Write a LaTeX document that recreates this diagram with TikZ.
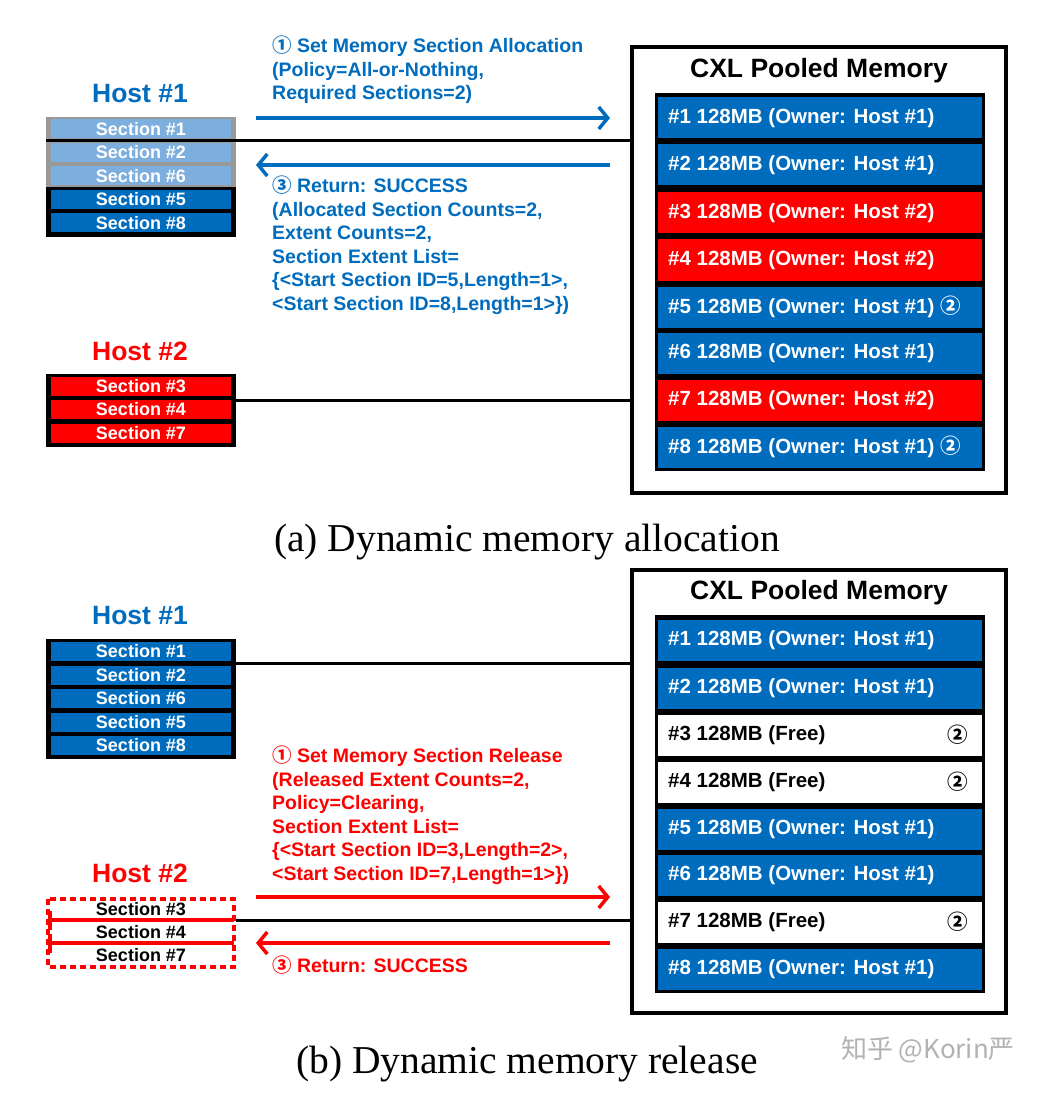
\documentclass[tikz,border=0pt]{standalone}
\usepackage{fontspec}
\setmainfont{Liberation Serif}
\newfontfamily\nsf{Liberation Sans}
\newfontfamily\cjk{Noto Sans CJK SC}
\usetikzlibrary{arrows.meta}
\definecolor{bl}{RGB}{0,108,190}
\definecolor{lb}{RGB}{125,175,222}
\definecolor{rd}{RGB}{255,0,0}
\newcommand{\cn}[1]{{\cjk\bfseries #1}}
\tikzset{
 txt/.style={font=\nsf\bfseries\fontsize{19.5}{23.5}\selectfont,align=left,anchor=north west,inner sep=0},
 sec/.style={minimum width=180pt,minimum height=19pt,inner sep=0,text=white,font=\nsf\bfseries\fontsize{18}{18}\selectfont},
 ent/.style={minimum width=324pt,minimum height=41pt,inner sep=0},
 et/.style={font=\nsf\bfseries\fontsize{20.5}{22}\selectfont,anchor=west,inner sep=0},
 hl/.style={font=\nsf\bfseries\fontsize{26.5}{28}\selectfont},
 conn/.style={line width=3pt},
 arr/.style={line width=4pt,-{Straight Barb[length=9pt,width=22pt,line width=3.5pt]}},
 captxt/.style={font=\fontsize{39.5}{42}\selectfont},
}
\begin{document}
\begin{tikzpicture}[x=1pt,y=-1pt]
\useasboundingbox[fill=white] (0,0) rectangle (1064,1099);
% ===== (a)
\node[hl,text=bl] (h1) at (140,94) {Host \#1};
\fill[black] (46,187) rectangle (236,237);
\fill[gray!80] (46,117) rectangle (236,187);
\node[sec,fill=lb] (a1) at (141,129) {Section \#1};
\node[sec,fill=lb] (a2) at (141,152.5) {Section \#2};
\node[sec,fill=lb] (a6) at (141,176) {Section \#6};
\node[sec,fill=bl] (a5) at (141,199.5) {Section \#5};
\node[sec,fill=bl] (a8) at (141,223) {Section \#8};
\node[hl,text=rd] (h2) at (140,351) {Host \#2};
\fill[black] (46,374) rectangle (236,447);
\node[sec,fill=rd] (a3) at (141,386) {Section \#3};
\node[sec,fill=rd] (a4) at (141,409.5) {Section \#4};
\node[sec,fill=rd] (a7) at (141,433) {Section \#7};
% pool a
\draw[line width=4pt] (632,47) rectangle (1006,493);
\node[hl] (pa) at (819,71) {CXL Pooled Memory};
\fill[black] (655,93) rectangle (985,471);
\foreach \n/\y/\c/\o/\m in {1/118/bl/1/,2/165/bl/1/,3/213/rd/2/,4/260/rd/2/,5/307/bl/1/\cn{②},6/353/bl/1/,7/400/rd/2/,8/447/bl/1/\cn{②}}{
 \node[ent,fill=\c] (pa\n) at (820,\y) {};
 \node[et,text=white] at (668,\y) {\#\n\ 128MB (Owner: Host \#\o) \m};
}
\coordinate (ca) at (632,141);
\draw[conn] (46,141) -- (ca);
\draw[conn] (236,400) -- (632,400);
\draw[arr,draw=bl] (256,118) -- (610,118);
\draw[arr,draw=bl] (610,165) -- (256,165);
\node[txt,text=bl] (t1) at (272,36) {\cn{①} Set Memory Section Allocation\\(Policy=All-or-Nothing,\\Required Sections=2)};
\node[txt,text=bl] (t3) at (272,176) {\cn{③} Return: SUCCESS\\(Allocated Section Counts=2,\\Extent Counts=2,\\Section Extent List=\\\{<Start Section ID=5,Length=1>,\\ <Start Section ID=8,Length=1>\})};
\node[captxt] (capa) at (527,542) {(a) Dynamic memory allocation};
% ===== (b)
\node[hl,text=bl] (g1) at (140,616) {Host \#1};
\fill[black] (46,639) rectangle (236,759);
\foreach \s/\y in {1/651,2/675,6/698,5/722,8/745}{
 \node[sec,fill=bl] (b\s) at (141,\y) {Section \#\s};
}
\node[hl,text=rd] (g2) at (140,873) {Host \#2};
\node[sec,text=black] (b3) at (141,909) {Section \#3};
\node[sec,text=black] (b4) at (141,932) {Section \#4};
\node[sec,text=black] (b7) at (141,955) {Section \#7};
\draw[rd,line width=4pt,dash pattern=on 6pt off 4pt] (48,899) rectangle (234,967);
\draw[rd,line width=4pt,|-] (48,920) -- (234,920);
\draw[rd,line width=4pt,|-] (48,943) -- (234,943);
\draw[line width=4pt] (632,570) rectangle (1006,1013);
\node[hl] (pb) at (819,593) {CXL Pooled Memory};
\fill[black] (655,615) rectangle (985,993);
\foreach \n/\y/\c/\tc/\t/\m in {1/640/bl/white/Owner: Host \#1/,2/688/bl/white/Owner: Host \#1/,3/735/white/black/Free/\cn{②},4/782/white/black/Free/\cn{②},5/829/bl/white/Owner: Host \#1/,6/875/bl/white/Owner: Host \#1/,7/922/white/black/Free/\cn{②},8/969/bl/white/Owner: Host \#1/}{
 \node[ent,fill=\c] (pb\n) at (820,\y) {};
 \node[et,text=\tc] at (668,\y) {\#\n\ 128MB (\t)};
 \node[et,anchor=center] at (958,\y) {\m};
}
\draw[conn] (236,663) -- (632,663);
\draw[conn] (236,920) -- (632,920);
\draw[arr,draw=rd] (256,897) -- (610,897);
\draw[arr,draw=rd] (610,943) -- (256,943);
\node[txt,text=rd] (r1) at (272,746) {\cn{①} Set Memory Section Release\\(Released Extent Counts=2,\\Policy=Clearing,\\Section Extent List=\\\{<Start Section ID=3,Length=2>,\\ <Start Section ID=7,Length=1>\})};
\node[txt,text=rd] (r3) at (272,956) {\cn{③} Return: SUCCESS};
\node[captxt] (capb) at (527,1064) {(b) Dynamic memory release};
\node[font=\cjk\fontsize{26}{28}\selectfont,text=gray!60] (wm) at (928,1050) {知乎 @Korin严};
\end{tikzpicture}
\end{document}
